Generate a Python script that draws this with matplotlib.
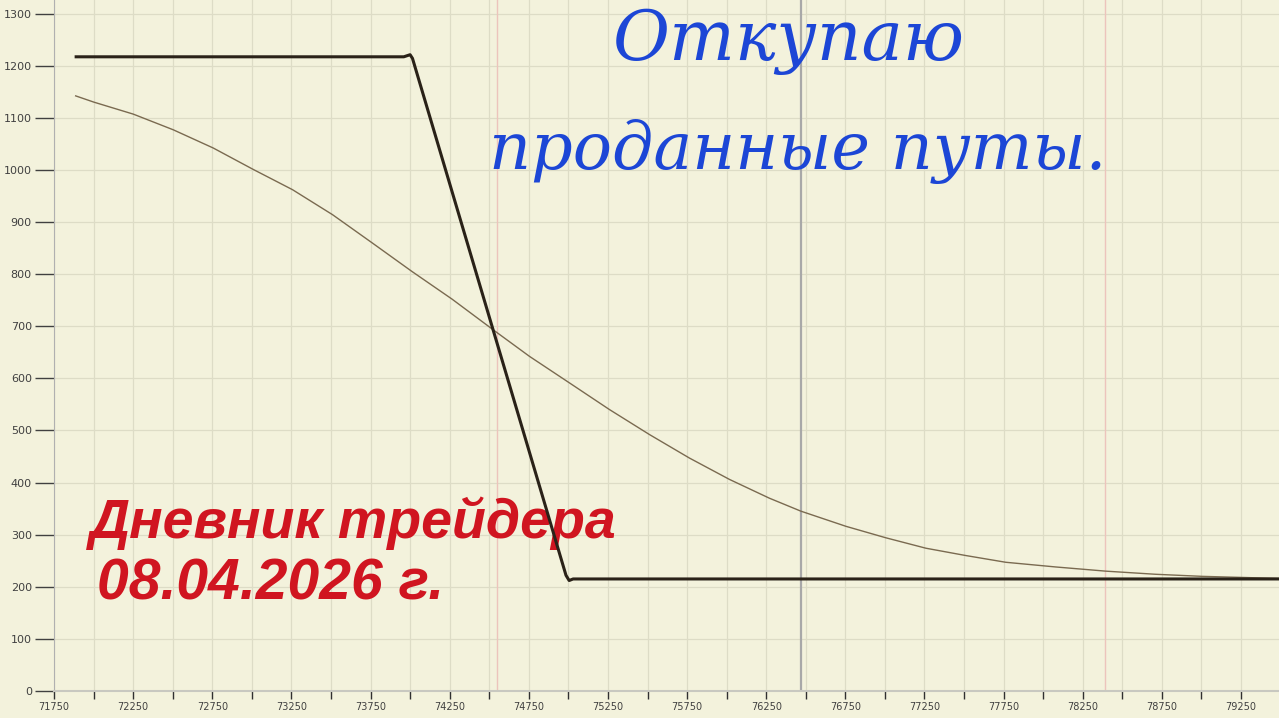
import numpy as np
import matplotlib
matplotlib.use('Agg')
import matplotlib.pyplot as plt
from matplotlib.ticker import FixedLocator

# payoff at expiry (black) and current value (brown)
payoff_x = [71890, 73960, 74000, 74015, 74985, 75005, 75030, 79490]
payoff_y = [1217, 1217, 1221, 1214, 222, 212, 215, 215]

value_x = [71887, 72002, 72251, 72503, 72756, 73008, 73257, 73510, 73760,
           74012, 74265, 74530, 74755, 75008, 75260, 75513, 75765, 76018,
           76270, 76470, 76754, 77006, 77259, 77510, 77764, 78080, 78395,
           78710, 79005, 79490]
value_y = [1142, 1130, 1107, 1077, 1042, 1001, 962, 914, 860,
           805, 752, 692, 642, 591, 540, 492, 447, 406,
           370, 345, 316, 294, 274, 260, 247, 238, 230,
           224, 220, 216]

# vertical markers
price_now = 76470
sigma_lines = [74550, 78390]

x_labels = [71750, 72250, 72750, 73250, 73750, 74250, 74750, 75250, 75750,
            76250, 76750, 77250, 77750, 78250, 78750, 79250]
x_minor = [72000, 72500, 73000, 73500, 74000, 74500, 75000, 75500, 76000,
           76500, 77000, 77500, 78000, 78500, 79000]
y_ticks = [0, 100, 200, 300, 400, 500, 600, 700, 800, 900, 1000, 1100, 1200, 1300]

bg = '#f3f2dc'
fig = plt.figure(figsize=(12.79, 7.18), dpi=100, facecolor=bg)
ax = fig.add_axes([54 / 1279, 27 / 718, 1 - 54 / 1279, 1 - 27 / 718])
ax.set_facecolor(bg)

ax.set_xlim(71750, 79490)
ax.set_ylim(0, 1326)

ax.xaxis.set_major_locator(FixedLocator(x_labels))
ax.xaxis.set_minor_locator(FixedLocator(x_minor))
ax.yaxis.set_major_locator(FixedLocator(y_ticks))
ax.set_xticklabels([str(v) for v in x_labels])

ax.grid(which='both', color='#dddcc6', linewidth=0.9)
ax.set_axisbelow(True)

ax.tick_params(axis='y', length=14, width=1, color='#404040', labelsize=8, labelcolor='#404040', pad=2)
ax.tick_params(axis='x', which='both', length=6, width=1, color='#303030', labelsize=7, labelcolor='#404040', pad=2)

for s in ['top', 'right']:
    ax.spines[s].set_visible(False)
ax.spines['left'].set_color('#b0b0b0')
ax.spines['bottom'].set_color('#c8c8c0')
ax.spines['bottom'].set_linewidth(1.5)

for v in sigma_lines:
    ax.axvline(v, color='#ecc4bc', linewidth=1.0, zorder=1)
ax.axvline(price_now, color='#a8a8a8', linewidth=1.6, zorder=1)

ax.plot(value_x, value_y, color='#7a6a50', linewidth=1.0, zorder=3)
ax.plot(payoff_x, payoff_y, color='#2a2218', linewidth=2.2, zorder=4, solid_joinstyle='round')

# надписи (под линиями графика)
tf = fig.transFigure
ax.text(788 / 1279, 1 - 42 / 718, 'Откупаю', color='#1c46d6', fontsize=50,
        family='DejaVu Serif', style='italic', ha='center', va='center', transform=tf, zorder=2)
ax.text(798 / 1279, 1 - 152 / 718, 'проданные путы.', color='#1c46d6', fontsize=47,
        family='DejaVu Serif', style='italic', ha='center', va='center', transform=tf, zorder=2)
ax.text(90 / 1279, 1 - 523 / 718, 'Дневник трейдера', color='#d01520', fontsize=40,
        family='Liberation Sans', weight='bold', style='italic', ha='left', va='center', transform=tf, zorder=2)
ax.text(97 / 1279, 1 - 585 / 718, '08.04.2026 г.', color='#d01520', fontsize=41,
        family='Liberation Sans', weight='bold', style='italic', ha='left', va='center', transform=tf, zorder=2)

plt.savefig('out.png', dpi=100, facecolor=bg)
